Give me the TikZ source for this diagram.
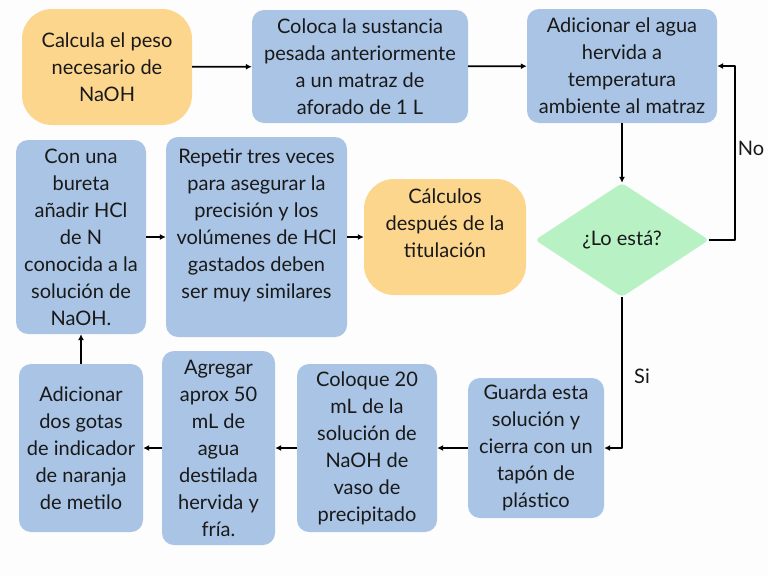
\documentclass[tikz,border=0pt]{standalone}
\usepackage{fontspec}
\setmainfont{Lato}
\usetikzlibrary{shapes.geometric,arrows.meta}

\definecolor{azul}{RGB}{169,196,228}
\definecolor{naranja}{RGB}{253,214,142}
\definecolor{verde}{RGB}{184,242,196}
\definecolor{fondo}{RGB}{253,253,253}
\definecolor{texto}{RGB}{25,25,25}

\begin{document}
\begin{tikzpicture}[x=1pt, y=-1pt, line join=round,
    paso/.style={fill=azul, rounded corners=12pt, align=center, inner sep=0pt,
        text=texto, font=\fontsize{20}{27}\selectfont},
    inicio/.style={paso, fill=naranja, rounded corners=30pt},
    decision/.style={diamond, fill=verde, inner sep=0pt, rounded corners=4pt,
        text=texto, font=\fontsize{20}{27}\selectfont},
    etiqueta/.style={text=texto, font=\fontsize{20}{27}\selectfont},
    flecha/.style={line width=1.8pt, -{Latex[length=6pt,width=6pt]}}]
    % fondo y marco
    \fill[fondo] (0,0) rectangle (768,576);
    \useasboundingbox (0,0) rectangle (768,576);

    % fila superior
    \node[inicio, minimum width=170, minimum height=116] (calcula) at (107,67)
        {Calcula el peso\\necesario de\\NaOH};
    \node[paso, minimum width=216, minimum height=113] (coloca) at (360,66.5)
        {Coloca la sustancia\\pesada anteriormente\\a un matraz de\\aforado de 1 L};
    \node[paso, minimum width=190, minimum height=114] (agua) at (622,66)
        {Adicionar el agua\\hervida a\\temperatura\\ambiente al matraz};

    % decisión
    \node[decision, minimum width=174, minimum height=114] (esta) at (622,240) {¿Lo está?};

    % fila central
    \node[paso, minimum width=130, minimum height=194] (bureta) at (81,237)
        {Con una\\bureta\\añadir HCl\\de N\\conocida a la\\solución de\\NaOH.};
    \node[paso, minimum width=181, minimum height=200] (repetir) at (256.5,237)
        {Repetir tres veces\\para asegurar la\\precisión y los\\volúmenes de HCl\\gastados deben\\ser muy similares\\\mbox{}};
    \node[inicio, minimum width=162, minimum height=116] (calculos) at (445,237)
        {Cálculos\\después de la\\titulación\\\mbox{}};

    % fila inferior
    \node[paso, minimum width=124, minimum height=168] (gotas) at (81,448)
        {Adicionar\\dos gotas\\de indicador\\de naranja\\de metilo};
    \node[paso, minimum width=113, minimum height=194] (agregar) at (218.5,448)
        {Agregar\\aprox 50\\mL de\\agua\\destilada\\hervida y\\fría.};
    \node[paso, minimum width=140, minimum height=168] (coloque) at (367,448)
        {Coloque 20\\mL de la\\solución de\\NaOH de\\vaso de\\precipitado};
    \node[paso, minimum width=136, minimum height=140] (guarda) at (536,448)
        {Guarda esta\\solución y\\cierra con un\\tapón de\\plástico};

    % conectores
    \draw[flecha] (calcula) -- (coloca);
    \draw[flecha] (coloca) -- (agua);
    \draw[flecha] (agua) -- (esta);
    \draw[flecha] (esta.east) -- ++(26,0) |- (agua.east);
    \draw[flecha] (esta.south) |- (guarda.east);
    \draw[flecha] (guarda) -- (coloque);
    \draw[flecha] (coloque) -- (agregar);
    \draw[flecha] (agregar) -- (gotas);
    \draw[flecha] (gotas) -- (bureta);
    \draw[flecha] (bureta) -- (repetir);
    \draw[flecha] (repetir) -- (calculos);

    % etiquetas
    \node[etiqueta] (no) at (751,148) {No};
    \node[etiqueta] (si) at (642,376) {Si};
\end{tikzpicture}
\end{document}
